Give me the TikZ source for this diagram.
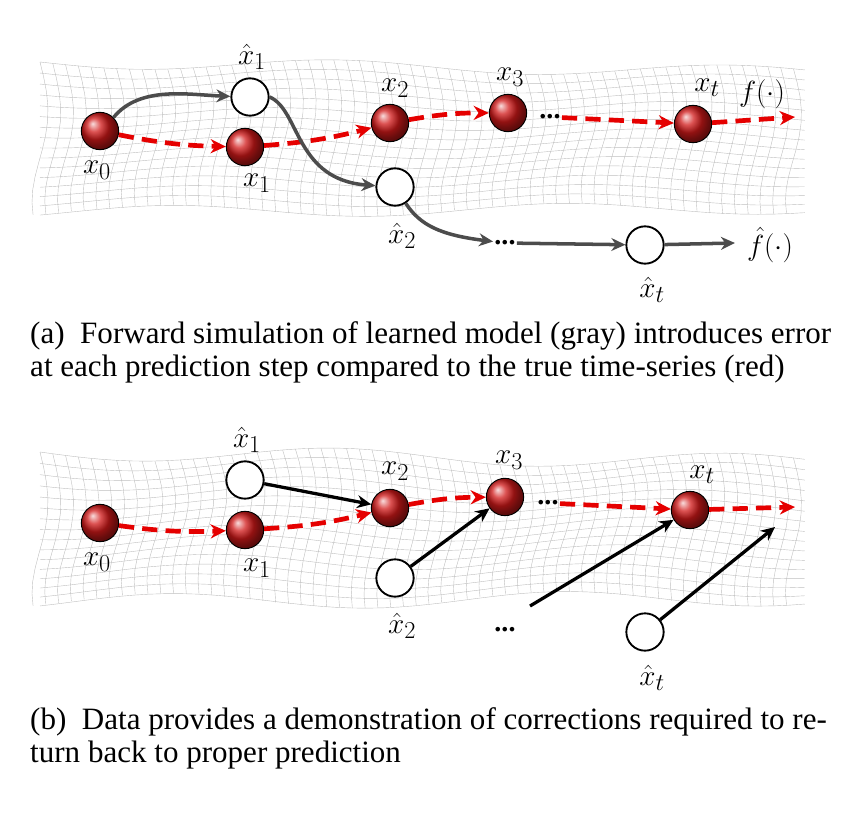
\documentclass[tikz,border=0pt]{standalone}
\usepackage{fontspec}
\setmainfont{Liberation Serif}
\usetikzlibrary{arrows.meta}
\tikzset{
 truenode/.style={circle,minimum size=1.12cm,inner sep=0pt,shading=ball,ball color=red!80!black!90!white,draw=black,line width=0.8pt},
 prednode/.style={circle,minimum size=1.12cm,inner sep=0pt,fill=white,draw=black,line width=1.6pt},
 lab/.style={font=\fontsize{31}{34}\selectfont,inner sep=1pt},
 dotsn/.style={font=\fontsize{24}{26}\selectfont\bfseries,inner sep=1pt},
 truearr/.style={red!90!black,line width=4pt,dash pattern=on 13pt off 7pt,-{Stealth[length=13pt,width=12pt]}},
 grayarr/.style={black!70,line width=3pt,-{Stealth[length=12pt,width=11pt]}},
 corr/.style={black,line width=2.8pt,-{Stealth[length=12pt,width=11pt]}},
 mesh/.style={black!25,line width=0.35pt},
 captext/.style={anchor=west,font=\fontsize{26.5}{30}\selectfont,inner sep=0pt}
}
\begin{document}
\begin{tikzpicture}[x=0.03cm,y=-0.03cm]
\useasboundingbox (0,0) rectangle (849,818);
% meshes
\foreach \oy/\amp in {0/1,390/1.3}{
 \foreach \v in {0,0.0667,...,1.01}
  \draw[mesh] plot[domain=0:1,samples=50,variable=\u] ({40+765*\u},{\oy+62+10*\u+\v*150-14*\v*\u+\amp*6*sin(700*\u+150*\v)});
 \foreach \u in {0,0.0167,...,1.001}
  \draw[mesh] plot[domain=0:1,samples=12,variable=\v] ({40+765*\u+8*sin(300*\v)},{\oy+62+10*\u+\v*150-14*\v*\u+\amp*6*sin(700*\u+150*\v)});
}
% ---------- panel (a)
\node[truenode] (a0) at (100,131) {};
\node[prednode] (ah1) at (250,97) {};
\node[truenode] (a1) at (245,147) {};
\node[truenode] (a2) at (390,123) {};
\node[truenode] (a3) at (508,113) {};
\node[dotsn] (ad) at (550,117) {...};
\node[truenode] (at) at (693,124) {};
\coordinate (aend) at (795,117);
\node[prednode] (ah2) at (395,187) {};
\node[dotsn] (ahd) at (505,243) {...};
\node[prednode] (aht) at (645,245) {};
\coordinate (ahend) at (735,243);
\node[lab] at (97,170) {$x_0$};
\node[lab] at (252,57) {$\hat{x}_1$};
\node[lab] at (257,183) {$x_1$};
\node[lab] at (395,88) {$x_2$};
\node[lab] at (510,77) {$x_3$};
\node[lab] at (707,88) {$x_t$};
\node[lab] at (762,94) {$f(\cdot)$};
\node[lab] at (402,236) {$\hat{x}_2$};
\node[lab] at (652,290) {$\hat{x}_t$};
\node[lab] at (770,245) {$\hat{f}(\cdot)$};
\draw[truearr] (a0) to[bend right=5] (a1);
\draw[truearr] (a1) to[bend right=5] (a2);
\draw[truearr] (a2) to[bend left=5] (a3);
\draw[truearr] (ad) -- (at);
\draw[truearr] (at) -- (aend);
\draw[grayarr] (a0.north east) .. controls (140,85) and (190,95) .. (ah1);
\draw[grayarr] (ah1.east) .. controls (300,110) and (295,180) .. (ah2);
\draw[grayarr] (ah2) .. controls (420,225) and (440,235) .. (ahd);
\draw[grayarr] (ahd) -- (aht);
\draw[grayarr] (aht) -- (ahend);
\node[captext] at (30,336) {(a)\ \ Forward simulation of learned model (gray) introduces error};
\node[captext] at (30,369) {at each prediction step compared to the true time-series (red)};
% ---------- panel (b)
\node[truenode] (b0) at (100,523) {};
\node[prednode] (bh1) at (245,480) {};
\node[truenode] (b1) at (245,530) {};
\node[truenode] (b2) at (390,508) {};
\node[truenode] (b3) at (505,497) {};
\node[dotsn] (bd) at (548,503) {...};
\node[truenode] (bt) at (690,510) {};
\coordinate (bend) at (795,507);
\node[prednode] (bh2) at (395,578) {};
\node[dotsn] (bhd) at (505,630) {...};
\node[prednode] (bht) at (645,632) {};
\coordinate (bhd2) at (530,606);
\coordinate (bhend) at (775,527);
\node[lab] at (97,562) {$x_0$};
\node[lab] at (247,440) {$\hat{x}_1$};
\node[lab] at (257,568) {$x_1$};
\node[lab] at (395,471) {$x_2$};
\node[lab] at (509,460) {$x_3$};
\node[lab] at (702,475) {$x_t$};
\node[lab] at (402,626) {$\hat{x}_2$};
\node[lab] at (652,678) {$\hat{x}_t$};
\draw[truearr] (b0) to[bend right=5] (b1);
\draw[truearr] (b1) to[bend right=5] (b2);
\draw[truearr] (b2) to[bend left=5] (b3);
\draw[truearr] (bd) -- (bt);
\draw[truearr] (bt) -- (bend);
\draw[corr] (bh1) -- (b2);
\draw[corr] (bh2) -- (b3);
\draw[corr] (bhd2) -- (bt);
\draw[corr] (bht) -- (bhend);
\node[captext] at (30,722) {(b)\ \ Data provides a demonstration of corrections required to re-};
\node[captext] at (30,755) {turn back to proper prediction};
\end{tikzpicture}
\end{document}
